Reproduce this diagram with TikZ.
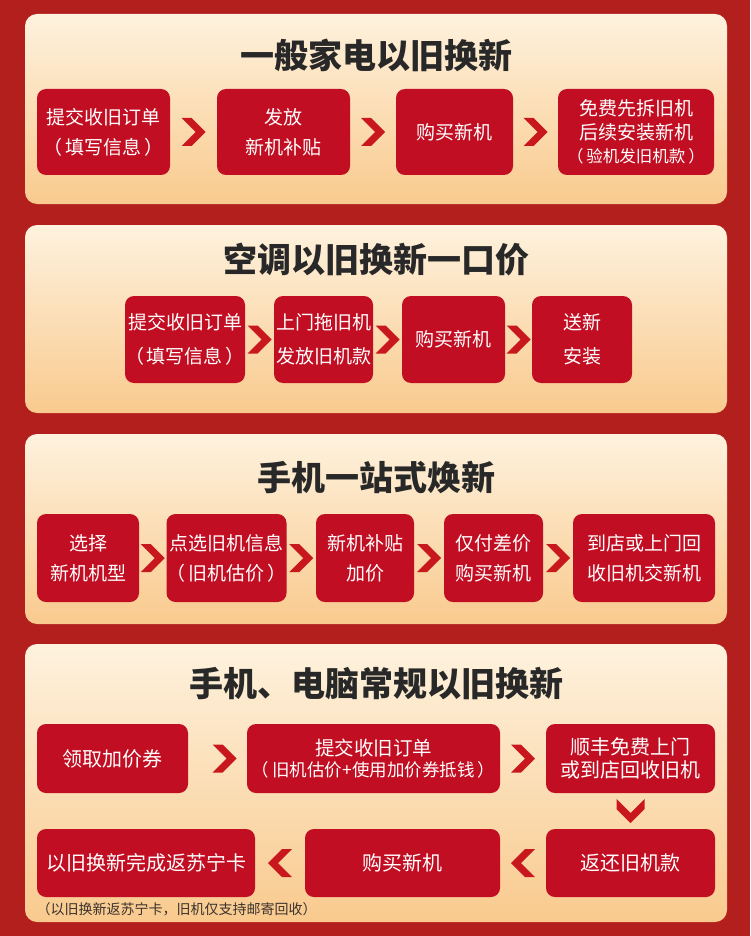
\documentclass[tikz,border=0pt]{standalone}
\usepackage{fontspec}
\setmainfont{Noto Sans CJK SC}
\usetikzlibrary{calc}
\definecolor{bgred}{RGB}{178,31,29}
\definecolor{boxred}{RGB}{194,14,34}
\definecolor{chevred}{RGB}{200,24,30}
\definecolor{paneltop}{RGB}{254,242,222}
\definecolor{panelbot}{RGB}{249,202,142}
\definecolor{titlegray}{RGB}{40,40,40}
\definecolor{notegray}{RGB}{60,50,45}
\newcommand{\lpar}{（\hspace{3pt}}
\newcommand{\rpar}{\hspace{3pt}）}
\tikzset{
  stepbox/.style={fill=boxred,rounded corners=9pt,text=white,align=center,inner sep=0pt,font=\fontsize{19}{30}\selectfont},
  heading/.style={text=titlegray,font=\bfseries\fontsize{34}{40}\selectfont},
  panel/.style={top color=paneltop,bottom color=panelbot,rounded corners=12pt},
  chev/.pic={\fill[chevred] (-12,-14) -- (-2,-14) -- (12,0) -- (-2,14) -- (-12,14) -- (2,0) -- cycle;}
}

\begin{document}
\begin{tikzpicture}[x=1pt,y=-1pt]
    \fill[bgred] (0,0) rectangle (750,936);
    \shade[panel] (25,14) rectangle (727,204);
    \shade[panel] (25,225) rectangle (727,413);
    \shade[panel] (25,434) rectangle (727,624);
    \shade[panel] (25,644) rectangle (727,922);

    \node[heading] (t1) at (376,55) {一般家电以旧换新};
    \node[stepbox,minimum width=133pt,minimum height=86pt] (a1) at (103.5,132) {提交收旧订单\\\lpar 填写信息\rpar};
    \node[stepbox,minimum width=133pt,minimum height=86pt] (a2) at (283.5,132) {发放\\新机补贴};
    \node[stepbox,minimum width=117pt,minimum height=86pt] (a3) at (454.5,132) {购买新机};
    \node[stepbox,minimum width=156pt,minimum height=86pt,font=\fontsize{19}{23.5}\selectfont] (a4) at (636,132) {免费先拆旧机\\后续安装新机\\{\fontsize{16.5}{20}\selectfont\lpar 验机发旧机款\rpar}};
    \pic at ($(a1.east)!.5!(a2.west)$) {chev};
    \pic at ($(a2.east)!.5!(a3.west)$) {chev};
    \pic at ($(a3.east)!.5!(a4.west)$) {chev};

    \node[heading] (t2) at (376,260) {空调以旧换新一口价};
    \node[stepbox,minimum width=120pt,minimum height=87pt,font=\fontsize{19}{34}\selectfont] (b1) at (185,339.5) {提交收旧订单\\\lpar 填写信息\rpar};
    \node[stepbox,minimum width=99pt,minimum height=87pt,font=\fontsize{19}{34}\selectfont] (b2) at (323.5,339.5) {上门拖旧机\\发放旧机款};
    \node[stepbox,minimum width=103pt,minimum height=87pt] (b3) at (453.5,339.5) {购买新机};
    \node[stepbox,minimum width=100pt,minimum height=87pt,font=\fontsize{19}{34}\selectfont] (b4) at (582,339.5) {送新\\安装};
    \pic at ($(b1.east)!.5!(b2.west)$) {chev};
    \pic at ($(b2.east)!.5!(b3.west)$) {chev};
    \pic at ($(b3.east)!.5!(b4.west)$) {chev};

    \node[heading] (t3) at (376,477) {手机一站式焕新};
    \node[stepbox,minimum width=102pt,minimum height=88pt] (c1) at (88,558) {选择\\新机机型};
    \node[stepbox,minimum width=119pt,minimum height=88pt] (c2) at (226.5,558) {点选旧机信息\\\lpar 旧机估价\rpar};
    \node[stepbox,minimum width=98pt,minimum height=88pt] (c3) at (365,558) {新机补贴\\加价};
    \node[stepbox,minimum width=99pt,minimum height=88pt] (c4) at (493.5,558) {仅付差价\\购买新机};
    \node[stepbox,minimum width=142pt,minimum height=88pt] (c5) at (644,558) {到店或上门回\\收旧机交新机};
    \pic at ($(c1.east)!.5!(c2.west)$) {chev};
    \pic at ($(c2.east)!.5!(c3.west)$) {chev};
    \pic at ($(c3.east)!.5!(c4.west)$) {chev};
    \pic at ($(c4.east)!.5!(c5.west)$) {chev};

    \node[heading] (t4) at (376,684) {手机、电脑常规以旧换新};
    \node[stepbox,minimum width=151pt,minimum height=69pt,font=\fontsize{20}{23}\selectfont] (d1) at (112.5,758.5) {领取加价券};
    \node[stepbox,minimum width=253pt,minimum height=69pt,font=\fontsize{19.5}{21.5}\selectfont] (d2) at (373.5,758.5) {提交收旧订单\\{\fontsize{17.5}{20}\selectfont\lpar 旧机估价+使用加价券抵钱\rpar}};
    \node[stepbox,minimum width=169pt,minimum height=69pt,font=\fontsize{20}{23}\selectfont] (d3) at (630.5,758.5) {顺丰免费上门\\或到店回收旧机};
    \node[stepbox,minimum width=218pt,minimum height=68pt,font=\fontsize{20}{23}\selectfont] (e1) at (146,863) {以旧换新完成返苏宁卡};
    \node[stepbox,minimum width=195pt,minimum height=68pt,font=\fontsize{20}{23}\selectfont] (e2) at (402.5,863) {购买新机};
    \node[stepbox,minimum width=169pt,minimum height=68pt,font=\fontsize{20}{23}\selectfont] (e3) at (630.5,863) {返还旧机款};
    \pic at ($(d1.east)!.62!(d2.west)$) {chev};
    \pic at ($(d2.east)!.5!(d3.west)$) {chev};
    \pic[rotate=-90] at ($(d3.south)!.5!(e3.north)$) {chev};
    \pic[rotate=180] at ($(e3.west)!.5!(e2.east)$) {chev};
    \pic[rotate=180] at ($(e2.west)!.5!(e1.east)$) {chev};
    \node[anchor=west,text=notegray,font=\fontsize{14}{16}\selectfont] (n1) at (33,909) {（以旧换新返苏宁卡，旧机仅支持邮寄回收）};
\end{tikzpicture}
\end{document}
